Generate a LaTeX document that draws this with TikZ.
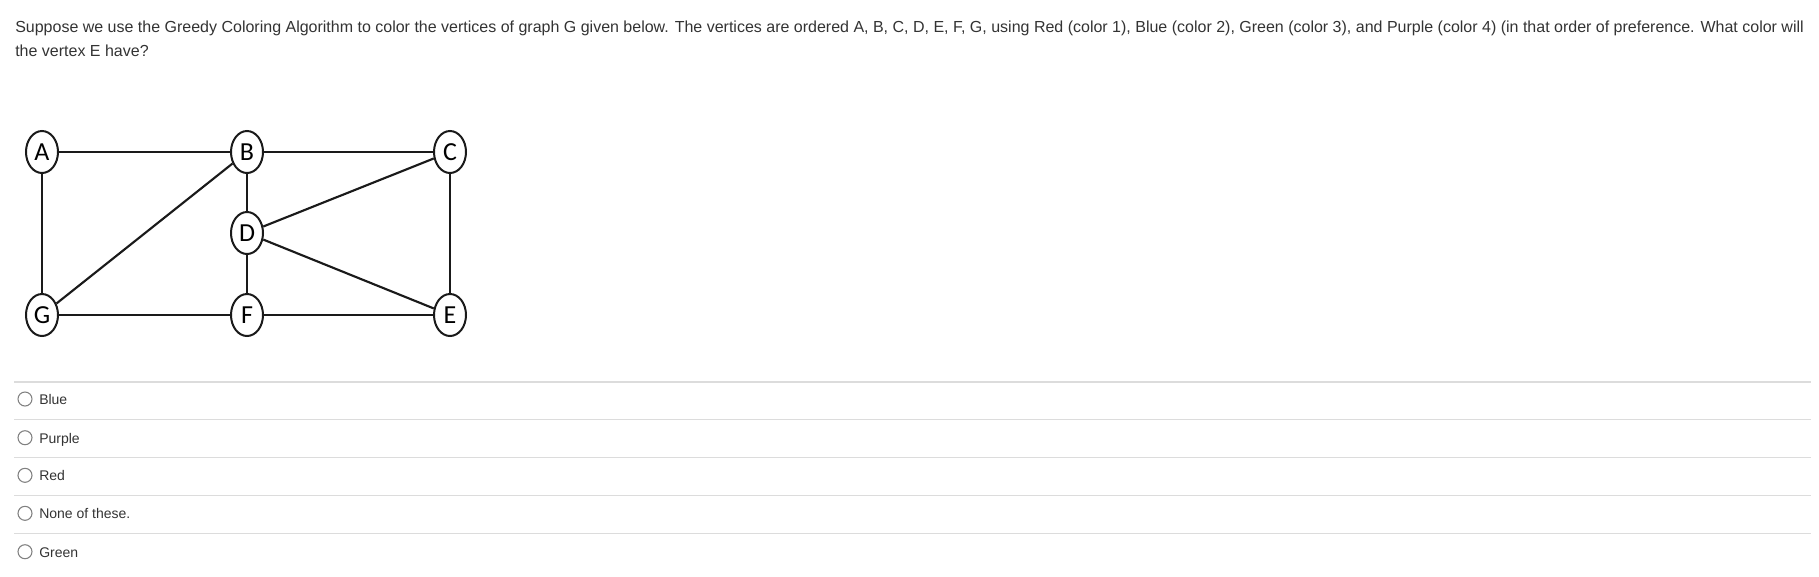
\documentclass[tikz,border=0pt]{standalone}
\usepackage{fontspec}
\setmainfont{Liberation Sans}
\newfontfamily\vtxfont{Carlito}
\usetikzlibrary{shapes.geometric}

\definecolor{txtgray}{HTML}{333333}
\definecolor{rulegray}{HTML}{DCDCDC}
\definecolor{radiogray}{HTML}{808080}
\definecolor{edgeblack}{HTML}{1A1A1A}

\begin{document}
\begin{tikzpicture}[x=0.75pt, y=-0.75pt,
    vtx/.style={draw=edgeblack, line width=1.5pt, ellipse, inner sep=0pt,
      minimum width=24pt, minimum height=31.5pt,
      font=\vtxfont\fontsize{19.5}{19.5}\selectfont},
    qline/.style={anchor=base west, inner sep=0pt, text=txtgray,
      font=\fontsize{12}{14}\selectfont},
    opt/.style={anchor=base west, inner sep=0pt, text=txtgray,
      font=\fontsize{10.5}{12}\selectfont},
    radio/.style={draw=radiogray, line width=0.8pt, circle, inner sep=0pt,
      minimum size=10.5pt},
    sep/.style={draw=rulegray, line width=0.8pt}]

      \useasboundingbox (0,0) rectangle (1819,576);

      \node[qline] (q1) at (15,32) {Suppose we use the Greedy Coloring Algorithm to color the vertices of graph G given below. The vertices are ordered A, B, C, D, E, F, G, using Red (color 1), Blue (color 2), Green (color 3), and Purple (color 4) (in that order of preference. What color will};
      \node[qline] (q2) at (15,56.7) {the vertex E have?};

      \node[vtx] (a) at (42, 152) {A};
      \node[vtx] (b) at (247, 152) {B};
      \node[vtx] (c) at (450, 152) {C};
      \node[vtx] (d) at (247, 233) {D};
      \node[vtx] (g) at (42, 315) {G};
      \node[vtx] (f) at (247, 315) {F};
      \node[vtx] (e) at (450, 315) {E};

      \path[draw=edgeblack, line width=1.6pt]
      (a) edge (b)
      (b) edge (c)
      (a) edge (g)
      (g) edge (b)
      (b) edge (d)

      (d) edge (c)
      (d) edge (e)
      (d) edge (f)
      (c) edge (e)

      (g) edge (f)
      (f) edge (e);

      \draw[sep] (14,382) -- (1811,382);
      \draw[sep] (14,419.3) -- (1811,419.3);
      \draw[sep] (14,457.3) -- (1811,457.3);
      \draw[sep] (14,495.3) -- (1811,495.3);
      \draw[sep] (14,533.3) -- (1811,533.3);

      \node[radio] (r1) at (25,399) {};
      \node[radio] (r2) at (25,437.7) {};
      \node[radio] (r3) at (25,475.3) {};
      \node[radio] (r4) at (25,513.3) {};
      \node[radio] (r5) at (25,551.7) {};

      \node[opt] (blue) at (39,404.3) {Blue};
      \node[opt] (purple) at (39,443) {Purple};
      \node[opt] (red) at (39,480.6) {Red};
      \node[opt] (none) at (39,518.6) {None of these.};
      \node[opt] (green) at (39,557) {Green};
    \end{tikzpicture}
\end{document}
